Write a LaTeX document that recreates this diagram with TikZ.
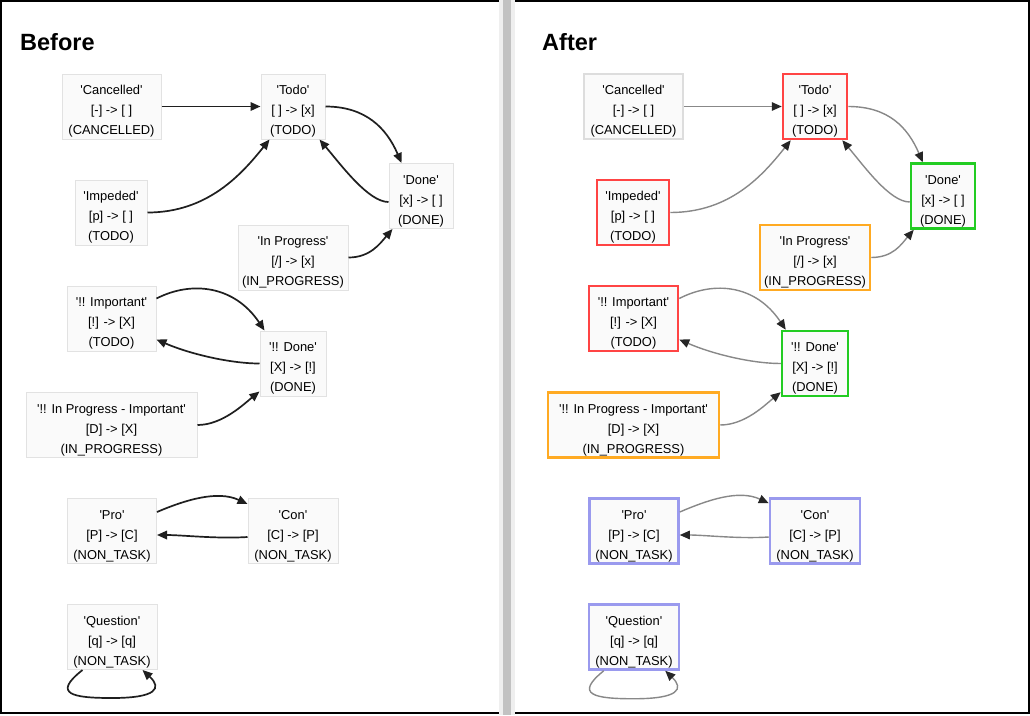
\documentclass[tikz,border=0pt]{standalone}
\usepackage{fontspec}
\setmainfont{Liberation Sans}[Ligatures=TeXOff]
\usetikzlibrary{arrows.meta,calc}
\definecolor{boxfill}{HTML}{FAFAFA}
\definecolor{boxline}{HTML}{E2E2E2}
\definecolor{myred}{HTML}{FF4444}
\definecolor{mygreen}{HTML}{22CC22}
\definecolor{myorange}{HTML}{FFAA22}
\definecolor{myblue}{HTML}{9A9AEE}
\definecolor{mygray}{HTML}{DDDDDD}
\definecolor{linegray}{HTML}{888888}
\definecolor{divlight}{HTML}{EFEFEF}
\definecolor{divdark}{HTML}{C2C2C2}
\newcommand\bxtext[3]{\raisebox{-7pt}[0pt][0pt]{\begin{tabular}{@{}c@{}}#1\\{}#2\\{}#3\end{tabular}}}
\tikzset{
  box/.style={rectangle, fill=boxfill, minimum height=65pt, inner sep=0pt,
    font=\fontsize{12.9}{20}\selectfont},
  title/.style={anchor=base west, inner sep=0pt, font=\fontsize{23.5}{23.5}\selectfont\bfseries},
}
\newcommand\panelbody{%
  \node[box, sgray,   minimum width=99pt]  (canc)   at (111.5,106.5) {\bxtext{'Cancelled'}{[-] -> [ ]}{(CANCELLED)}};
  \node[box, sred,    minimum width=64pt]  (todo)   at (293,106.5)   {\bxtext{'Todo'}{[ ] -> [x]}{(TODO)}};
  \node[box, sred,    minimum width=72pt]  (imp)    at (111,212.5)   {\bxtext{'Impeded'}{[p] -> [ ]}{(TODO)}};
  \node[box, sgreen,  minimum width=64pt]  (done)   at (421,196)     {\bxtext{'Done'}{[x] -> [ ]}{(DONE)}};
  \node[box, sorange, minimum width=110pt] (inprog) at (293,257.5)   {\bxtext{'In Progress'}{[/] -> [x]}{(IN\_PROGRESS)}};
  \node[box, sred,    minimum width=89pt]  (impt)   at (111.5,318.5) {\bxtext{'!! Important'}{[!] -> [X]}{(TODO)}};
  \node[box, sgreen,  minimum width=66pt]  (idone)  at (293,363.5)   {\bxtext{'!! Done'}{[X] -> [!]}{(DONE)}};
  \node[box, sorange, minimum width=171pt] (iip)    at (111.5,425)   {\bxtext{'!! In Progress - Important'}{[D] -> [X]}{(IN\_PROGRESS)}};
  \node[box, sblue,   minimum width=89pt]  (pro)    at (112,531)     {\bxtext{'Pro'}{[P] -> [C]}{(NON\_TASK)}};
  \node[box, sblue,   minimum width=90pt]  (con)    at (293,531)     {\bxtext{'Con'}{[C] -> [P]}{(NON\_TASK)}};
  \node[box, sblue,   minimum width=90pt]  (ques)   at (112,637)     {\bxtext{'Question'}{[q] -> [q]}{(NON\_TASK)}};
  % connectors
  \draw[conn] (canc.east) -- (canc.east -| todo.west);
  \draw[conn] (todo.east) .. controls +(40,0) and +(-15,-35) .. ($(done.north west)+(13,0)$);
  \draw[conn] ($(done.west)+(0,6)$) .. controls +(-20,0) and +(22,26) .. ($(todo.south east)+(-6,0)$);
  \draw[conn] (imp.east) .. controls +(60,0) and +(-28,35) .. ($(todo.south west)+(9,0)$);
  \draw[conn] (inprog.east) .. controls +(22,0) and +(-12,14) .. ($(done.south west)+(4,0)$);
  \draw[conn] ($(impt.east)+(0,-20)$) .. controls +(35,-18) and +(-30,-45) .. ($(idone.north west)+(5,0)$);
  \draw[conn] (idone.west) .. controls +(-30,0) and +(32,14) .. ($(impt.east)+(0,21)$);
  \draw[conn] (iip.east) .. controls +(25,0) and +(-15,12) .. ($(idone.south west)+(0,-5)$);
  \draw[conn] ($(pro.east)+(0,-19)$) .. controls +(28,-12) and +(-30,-14) .. ($(con.north west)+(0,6)$);
  \draw[conn] ($(con.west)+(0,6)$) .. controls +(-30,2) and +(25,0) .. ($(pro.east)+(0,4)$);
  \draw[conn] ($(ques.south west)+(16,0)$) .. controls ($(ques.south)+(-60,24)$) and ($(ques.south)+(-40,28)$) .. ($(ques.south)+(0,28)$)
     .. controls ($(ques.south)+(45,28)$) and ($(ques.south)+(50,18)$) .. ($(ques.south east)+(-15,0)$);
}
\begin{document}
\begin{tikzpicture}[x=1pt, y=-1pt]
  \useasboundingbox (0,0) rectangle (1030,715);
  \fill[white] (0,0) rectangle (1030,715);
  \draw[black, line width=2pt] (1,1) rectangle (1029,712.5);
  \fill[divlight] (499,0) rectangle (515,715);
  \fill[divdark] (503,0) rectangle (511,715);
  \node[title] (tbefore) at (20,50) {Before};
  \node[title] (tafter) at (542,50) {After};
  \begin{scope}[name prefix=b-,
      sgray/.style={draw=boxline, line width=1pt},
      sred/.style={draw=boxline, line width=1pt},
      sgreen/.style={draw=boxline, line width=1pt},
      sorange/.style={draw=boxline, line width=1pt},
      sblue/.style={draw=boxline, line width=1pt},
      conn/.style={draw=black!88, line width=1.7pt, -{Triangle[length=10pt,width=8.5pt]}}]
    \panelbody
  \end{scope}
  \begin{scope}[name prefix=a-, shift={(522,0)},
      sgray/.style={draw=mygray, line width=2.5pt},
      sred/.style={draw=myred, line width=2.5pt},
      sgreen/.style={draw=mygreen, line width=2.5pt},
      sorange/.style={draw=myorange, line width=2.5pt},
      sblue/.style={draw=myblue, line width=2.5pt},
      conn/.style={draw=linegray, line width=1.4pt, -{Triangle[length=10pt,width=8.5pt,color=black!85]}}]
    \panelbody
  \end{scope}
\end{tikzpicture}
\end{document}
